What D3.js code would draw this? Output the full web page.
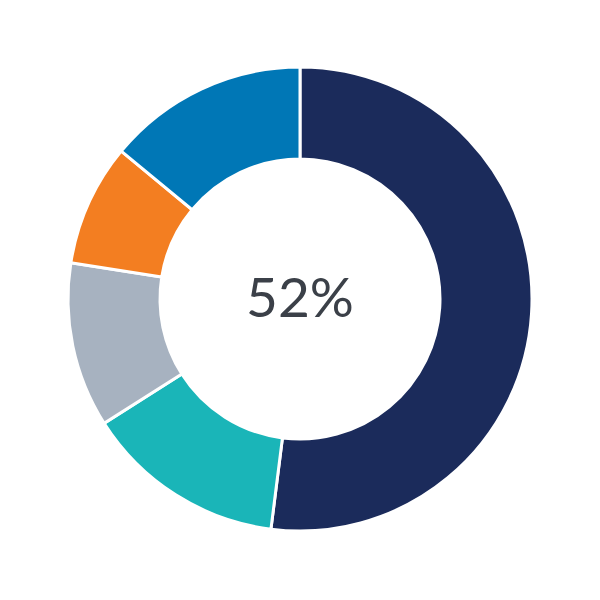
<!DOCTYPE html>
<html>
<head>
<meta charset="utf-8">
<script src="https://cdn.jsdelivr.net/npm/d3@7"></script>
<style>
  html, body { margin: 0; padding: 0; background: #fff; }
</style>
</head>
<body>
<div id="chart"></div>
<script>
// data van de donut, met de klok mee vanaf boven
var labels = ["A", "B", "C", "D", "E"];
var values = [52, 14, 11.5, 8.5, 14];
var colors = ["#1b2b5b", "#1ab5b8", "#a7b2c0", "#f37e21", "#0077b6"];
var centerLabel = "52%";

const width = 600, height = 600;
const outerRadius = 232, innerRadius = 140;

var svg = d3.select("#chart")
    .append("svg")
    .attr("width", width)
    .attr("height", height)
  .append("g")
    .attr("transform", "translate(300,299)");

var pie = d3.pie()
    .sort(null)
    .value(function(d) { return d; });

var arc = d3.arc()
    .innerRadius(innerRadius)
    .outerRadius(outerRadius);

var color = d3.scaleOrdinal().domain(labels).range(colors);

svg.selectAll(".slice")
    .data(pie(values))
    .enter()
    .append("path")
    .attr("class", "slice")
    .attr("d", arc)
    .style("fill", function(d, i) { return color(labels[i]); })
    .style("stroke", "#fff")
    .style("stroke-width", 3);

// tekst in het midden
svg.append("text")
    .attr("text-anchor", "middle")
    .attr("y", 18)
    .style("font-family", "Lato, sans-serif")
    .style("font-weight", 400)
    .style("font-size", "55px")
    .style("fill", "#3b4048")
    .text(centerLabel);
</script>
</body>
</html>
